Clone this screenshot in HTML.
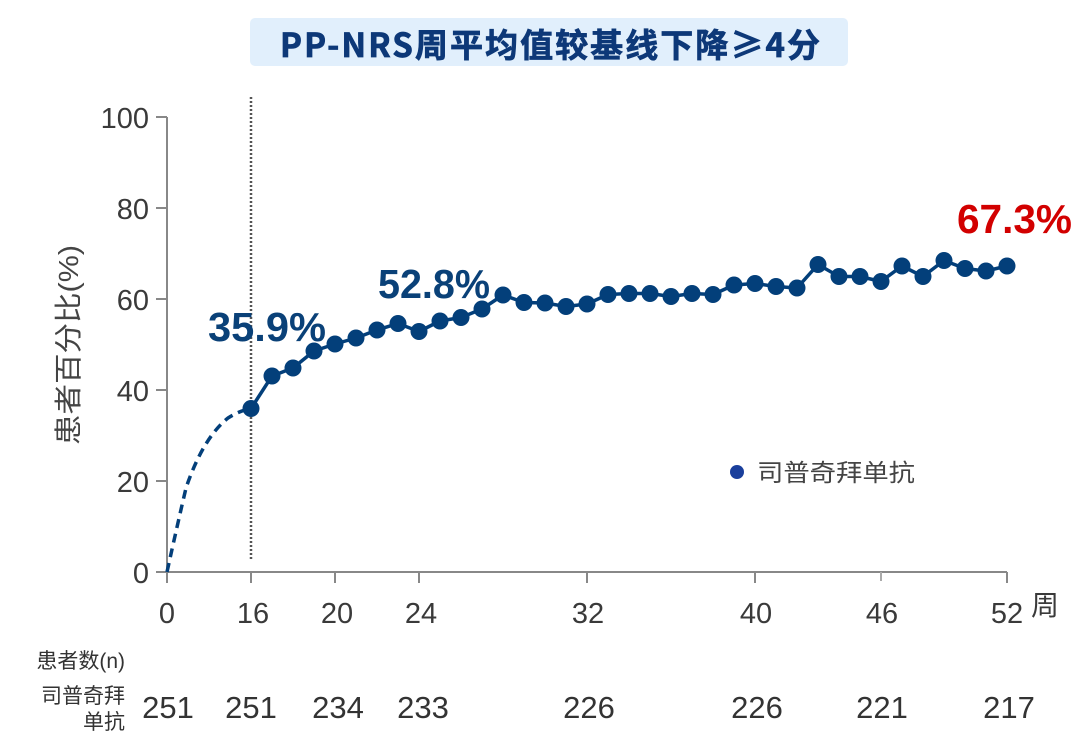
<!DOCTYPE html>
<html>
<head>
<meta charset="utf-8">
<style>
html,body{margin:0;padding:0;background:#fff;}
svg{display:block;}
</style>
</head>
<body>
<svg width="1080" height="738" viewBox="0 0 1080 738" xmlns="http://www.w3.org/2000/svg">
  <!-- Title -->
  <rect x="250" y="18" width="598" height="48" rx="5" fill="#e1effc"/>
  <text x="280" y="57" font-family="'Noto Sans CJK SC','Liberation Sans',sans-serif" font-weight="700" font-size="33" fill="#0d3878" stroke="#0d3878" stroke-width="0.7" textLength="540" lengthAdjust="spacing">PP-NRS周平均值较基线下降≥4分</text>

  <!-- dotted vertical line -->
  <line x1="251" y1="97" x2="251" y2="560" stroke="#555" stroke-width="2.5" stroke-dasharray="2 2"/>

  <!-- axes -->
  <g stroke="#888" stroke-width="2" fill="none">
    <line x1="167" y1="117" x2="167" y2="572"/>
    <line x1="156" y1="572" x2="1007" y2="572"/>
    <line x1="156" y1="117" x2="167" y2="117"/>
    <line x1="156" y1="208" x2="167" y2="208"/>
    <line x1="156" y1="299" x2="167" y2="299"/>
    <line x1="156" y1="390" x2="167" y2="390"/>
    <line x1="156" y1="481" x2="167" y2="481"/>
    <line x1="167" y1="572" x2="167" y2="583"/>
    <line x1="251" y1="572" x2="251" y2="583"/>
    <line x1="335" y1="572" x2="335" y2="583"/>
    <line x1="419" y1="572" x2="419" y2="583"/>
    <line x1="587" y1="572" x2="587" y2="583"/>
    <line x1="755" y1="572" x2="755" y2="583"/>
    <line x1="881" y1="572" x2="881" y2="581" stroke="#aaa"/>
    <line x1="1007" y1="572" x2="1007" y2="583"/>
  </g>

  <!-- y tick labels -->
  <g font-family="'Liberation Sans',sans-serif" font-size="29" fill="#3a3a3a" text-anchor="end">
    <text x="149" y="128">100</text>
    <text x="149" y="219">80</text>
    <text x="149" y="310">60</text>
    <text x="149" y="401">40</text>
    <text x="149" y="492">20</text>
    <text x="149" y="583">0</text>
  </g>

  <!-- x tick labels -->
  <g font-family="'Liberation Sans',sans-serif" font-size="29" fill="#3a3a3a" text-anchor="middle">
    <text x="167" y="623">0</text>
    <text x="253" y="623">16</text>
    <text x="337" y="623">20</text>
    <text x="421" y="623">24</text>
    <text x="588" y="623">32</text>
    <text x="756" y="623">40</text>
    <text x="882" y="623">46</text>
    <text x="1007" y="623">52</text>
  </g>
  <text x="1031" y="615" font-family="'Liberation Sans','Noto Sans CJK SC',sans-serif" font-size="28" fill="#3a3a3a">周</text>

  <!-- y axis label -->
  <text transform="translate(78,445) rotate(-90)" font-family="'Liberation Sans','Noto Sans CJK SC',sans-serif" font-size="28" fill="#444" textLength="200" lengthAdjust="spacingAndGlyphs">患者百分比(%)</text>

  <!-- dashed curve -->
  <path d="M167,572 Q178,522 186,488 Q203,438 228,418 Q241,410 251,408.5" fill="none" stroke="#033f7a" stroke-width="3.5" stroke-dasharray="9 6"/>

  <!-- series line -->
  <polyline fill="none" stroke="#033f7a" stroke-width="3.5" stroke-linejoin="round"
    points="251,408.5 272,376 293,368 314,351 335,344 356,338 377,330 398,323.5 419,331.5 440,321 461,317.5 482,309 503,295 524,302.5 545,303 566,306.5 587,304 608,294.5 629,293.5 650,293.5 671,296.5 692,293.5 713,294.5 734,285 755,283.5 776,286.5 797,288 818,264.5 839,276.5 860,276.5 881,281.5 902,266 923,276.5 944,260.5 965,268.5 986,271 1007,266"/>
  <g fill="#033f7a">
    <circle cx="251" cy="408.5" r="8.5"/>
    <circle cx="272" cy="376" r="8.5"/>
    <circle cx="293" cy="368" r="8.5"/>
    <circle cx="314" cy="351" r="8.5"/>
    <circle cx="335" cy="344" r="8.5"/>
    <circle cx="356" cy="338" r="8.5"/>
    <circle cx="377" cy="330" r="8.5"/>
    <circle cx="398" cy="323.5" r="8.5"/>
    <circle cx="419" cy="331.5" r="8.5"/>
    <circle cx="440" cy="321" r="8.5"/>
    <circle cx="461" cy="317.5" r="8.5"/>
    <circle cx="482" cy="309" r="8.5"/>
    <circle cx="503" cy="295" r="8.5"/>
    <circle cx="524" cy="302.5" r="8.5"/>
    <circle cx="545" cy="303" r="8.5"/>
    <circle cx="566" cy="306.5" r="8.5"/>
    <circle cx="587" cy="304" r="8.5"/>
    <circle cx="608" cy="294.5" r="8.5"/>
    <circle cx="629" cy="293.5" r="8.5"/>
    <circle cx="650" cy="293.5" r="8.5"/>
    <circle cx="671" cy="296.5" r="8.5"/>
    <circle cx="692" cy="293.5" r="8.5"/>
    <circle cx="713" cy="294.5" r="8.5"/>
    <circle cx="734" cy="285" r="8.5"/>
    <circle cx="755" cy="283.5" r="8.5"/>
    <circle cx="776" cy="286.5" r="8.5"/>
    <circle cx="797" cy="288" r="8.5"/>
    <circle cx="818" cy="264.5" r="8.5"/>
    <circle cx="839" cy="276.5" r="8.5"/>
    <circle cx="860" cy="276.5" r="8.5"/>
    <circle cx="881" cy="281.5" r="8.5"/>
    <circle cx="902" cy="266" r="8.5"/>
    <circle cx="923" cy="276.5" r="8.5"/>
    <circle cx="944" cy="260.5" r="8.5"/>
    <circle cx="965" cy="268.5" r="8.5"/>
    <circle cx="986" cy="271" r="8.5"/>
    <circle cx="1007" cy="266" r="8.5"/>
  </g>

  <!-- value labels -->
  <g font-family="'Liberation Sans',sans-serif" font-weight="700" font-size="41">
    <text x="208" y="341" fill="#0a4178" textLength="118" lengthAdjust="spacingAndGlyphs">35.9%</text>
    <text x="378" y="298" fill="#0a4178" textLength="112" lengthAdjust="spacingAndGlyphs">52.8%</text>
    <text x="957" y="233" fill="#d20000" textLength="115" lengthAdjust="spacingAndGlyphs">67.3%</text>
  </g>

  <!-- legend -->
  <circle cx="737" cy="472" r="7" fill="#1a3f9c"/>
  <text x="757" y="481" font-family="'Liberation Sans','Noto Sans CJK SC',sans-serif" font-size="24" fill="#444" textLength="158" lengthAdjust="spacingAndGlyphs">司普奇拜单抗</text>

  <!-- patient numbers -->
  <g font-family="'Liberation Sans','Noto Sans CJK SC',sans-serif" font-size="21" fill="#333" text-anchor="end">
    <text x="125" y="668">患者数(n)</text>
    <text x="125" y="703">司普奇拜</text>
    <text x="125" y="729">单抗</text>
  </g>
  <g font-family="'Liberation Sans',sans-serif" font-size="31" fill="#333" text-anchor="middle">
    <text x="168" y="718">251</text>
    <text x="251" y="718">251</text>
    <text x="338" y="718">234</text>
    <text x="423" y="718">233</text>
    <text x="589" y="718">226</text>
    <text x="757" y="718">226</text>
    <text x="882" y="718">221</text>
    <text x="1009" y="718">217</text>
  </g>
</svg>
</body>
</html>
